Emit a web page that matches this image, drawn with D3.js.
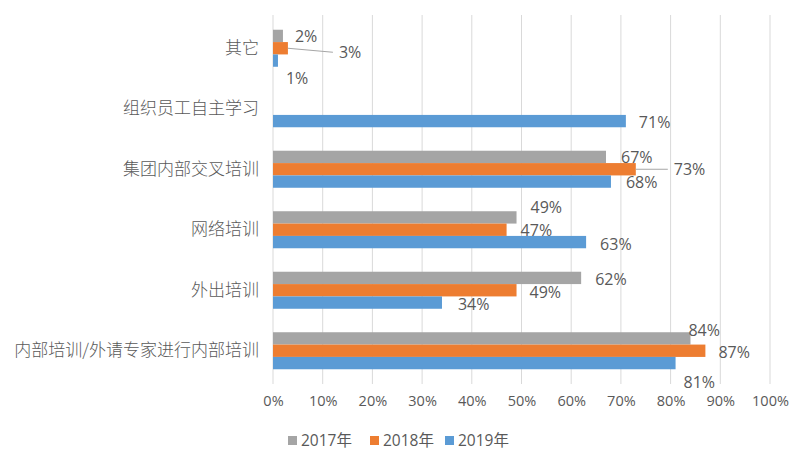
<!DOCTYPE html>
<html>
<head>
<meta charset="utf-8">
<script src="https://cdn.jsdelivr.net/npm/d3@7"></script>
<style>
  html, body { margin: 0; padding: 0; background: #fff; }
  svg { display: block; }
</style>
</head>
<body>
<svg id="chart" width="796" height="468"></svg>
<script>
// Data
const categories = ['其它', '组织员工自主学习', '集团内部交叉培训', '网络培训', '外出培训', '内部培训/外请专家进行内部培训'];
const years = ['2017年', '2018年', '2019年'];
const values2017 = [2, null, 67, 49, 62, 84];
const values2018 = [3, null, 73, 47, 49, 87];
const values2019 = [1, 71, 68, 63, 34, 81];
const xTicks = [0, 10, 20, 30, 40, 50, 60, 70, 80, 90, 100];

// Label nudges (dx from bar end, dy from bar centre), like moved Excel labels
const labelOffsets = [
    [[12, 0], [51, 4], [8, 18]],
    [null, null, [13, 1]],
    [[15, 0], [38, 0], [15, 1]],
    [[14, -10], [14, 1], [14, 2]],
    [[14, 1], [13, 2], [16, 2]],
    [[-2, -8], [13, 2], [8, 19]]
];
const leaderLines = { '0-1': true, '2-1': true };

const colors = ['#A5A5A5', '#ED7D31', '#5B9BD5'];
const textColor = '#595959';

const series = [values2017, values2018, values2019];
const rows = [];
categories.forEach((c, i) => {
    series.forEach((s, j) => {
        if (s[i] != null) rows.push({ cat: c, ci: i, year: years[j], yi: j, value: s[i] });
    });
});

const svg = d3.select('#chart');
const plot = { left: 273, right: 770, top: 18, bottom: 381 };

const x = d3.scaleLinear().domain([0, 100]).range([plot.left, plot.right]);
const y = d3.scaleBand().domain(categories).range([plot.top, plot.bottom])
    .paddingInner(0.388).paddingOuter(0.194);
const yInner = d3.scaleBand().domain(years).range([0, y.bandwidth()]);

// Gridlines
svg.append('g')
    .selectAll('line')
    .data(xTicks)
    .join('line')
    .attr('x1', d => x(d)).attr('x2', d => x(d))
    .attr('y1', 15).attr('y2', 384)
    .attr('stroke', '#D9D9D9')
    .attr('stroke-width', 1);

// X axis labels
const xAxis = svg.append('g')
    .attr('transform', 'translate(0,396)')
    .call(d3.axisBottom(x).tickValues(xTicks).tickFormat(d => d + '%').tickSize(0).tickPadding(0));
xAxis.select('.domain').remove();
xAxis.selectAll('text')
    .attr('font-family', '"Open Sans", sans-serif')
    .attr('font-size', '14.5px')
    .attr('fill', textColor);

// Y axis labels
const yAxis = svg.append('g')
    .attr('transform', `translate(${plot.left - 14},0)`)
    .call(d3.axisLeft(y).tickSize(0).tickPadding(0));
yAxis.select('.domain').remove();
yAxis.selectAll('text')
    .attr('font-family', '"Noto Sans CJK SC", sans-serif')
    .attr('font-weight', 300)
    .attr('font-size', '17px')
    .attr('fill', textColor);

// Bars
svg.append('g')
    .selectAll('rect')
    .data(rows)
    .join('rect')
    .attr('x', x(0))
    .attr('y', d => y(d.cat) + yInner(d.year))
    .attr('width', d => x(d.value) - x(0))
    .attr('height', yInner.bandwidth())
    .attr('fill', d => colors[d.yi]);

// Leader lines
svg.append('g')
    .selectAll('line')
    .data(rows.filter(d => leaderLines[d.ci + '-' + d.yi]))
    .join('line')
    .attr('x1', d => x(d.value))
    .attr('y1', d => y(d.cat) + yInner(d.year) + yInner.bandwidth() / 2)
    .attr('x2', d => x(d.value) + labelOffsets[d.ci][d.yi][0] - 6)
    .attr('y2', d => y(d.cat) + yInner(d.year) + yInner.bandwidth() / 2 + labelOffsets[d.ci][d.yi][1])
    .attr('stroke', '#A6A6A6')
    .attr('stroke-width', 1);

// Value labels
svg.append('g')
    .selectAll('text')
    .data(rows)
    .join('text')
    .attr('x', d => x(d.value) + labelOffsets[d.ci][d.yi][0])
    .attr('y', d => y(d.cat) + yInner(d.year) + yInner.bandwidth() / 2 + labelOffsets[d.ci][d.yi][1])
    .attr('dy', '0.35em')
    .attr('font-family', '"Open Sans", sans-serif')
    .attr('font-size', '16px')
    .attr('fill', textColor)
    .text(d => d.value + '%');

// Legend
const legendX = [288, 370, 445];
const legend = svg.append('g')
    .selectAll('g')
    .data(years)
    .join('g')
    .attr('transform', (d, i) => `translate(${legendX[i]},441)`);
legend.append('rect')
    .attr('x', 0).attr('y', -5)
    .attr('width', 9).attr('height', 9)
    .attr('fill', (d, i) => colors[i]);
legend.append('text')
    .attr('x', 13)
    .attr('dy', '0.35em')
    .attr('font-family', '"Open Sans", "Noto Sans CJK SC", sans-serif')
    .attr('font-size', '15.5px')
    .attr('fill', textColor)
    .text(d => d);
</script>
</body>
</html>
